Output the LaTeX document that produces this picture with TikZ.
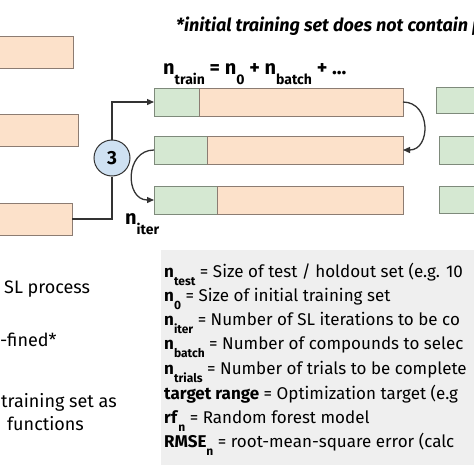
\documentclass[tikz,border=0pt]{standalone}
\usepackage{fontspec}
\setmainfont{Fira Sans}
\usetikzlibrary{arrows.meta}
\usetikzlibrary{positioning}

\definecolor{peachfill}{HTML}{FCE1CA}
\definecolor{peachline}{HTML}{8C7C72}
\definecolor{greenfill}{HTML}{D5E8D2}
\definecolor{greenline}{HTML}{7E8A7B}
\definecolor{bluefill}{HTML}{CFE1F2}
\definecolor{linecol}{HTML}{333333}
\definecolor{panelgray}{HTML}{EFEFEF}

% lowered index as printed under the bold n
\newcommand\topidx[1]{\raisebox{-10pt}{\fontsize{14}{14}\selectfont\bfseries #1}}
\newcommand\keyidx[1]{\raisebox{-8pt}{\fontsize{12}{12}\selectfont\bfseries #1}}

\tikzset {
  part/.style = {
    anchor = north west,
    inner sep = 0,
    outer sep = 0,
    line width = 1pt,
    minimum height = 28pt
  },
  % held-out compounds
  test part/.style = {
    part,
    draw = greenline,
    fill = greenfill
  },
  % training compounds
  train part/.style = {
    part,
    draw = peachline,
    fill = peachfill
  },
  step node/.style = {
    circle,
    draw = linecol,
    fill = bluefill,
    line width = 1pt,
    minimum size = 36pt,
    inner sep = 0,
    font = \bfseries\fontsize{19}{19}\selectfont
  },
  link/.style = {
    draw = linecol,
    line width = 1.3pt
  },
  % connector with a head
  arrlink/.style = {
    link,
    -{Triangle[length=7pt, width=6pt]}
  },
  keyline/.style = {
    anchor = base west,
    inner sep = 0,
    font = \fontsize{17}{17}\selectfont
  },
  sideline/.style = {
    anchor = base west,
    inner sep = 0,
    font = \fontsize{18}{18}\selectfont
  },
  formula/.style = {
    anchor = base west,
    inner sep = 0,
    font = \bfseries\fontsize{20}{20}\selectfont
  }
}

\begin{document}
\begin{tikzpicture}[x=1pt, y=-1pt]
    \useasboundingbox (0,0) rectangle (474,474);
    \clip (0,0) rectangle (474,474);

    % legend panel
    \node[fill=panelgray, anchor=north west, inner sep=0,
      minimum width=320pt, minimum height=215pt] (legend) at (161,250) {};

    % left column
    \node[train part, minimum width=78pt, minimum height=32pt] (first) at (-5,36) {};
    \node[train part, minimum width=83pt, minimum height=32pt] (second) at (-5,114) {};
    \node[train part, minimum width=77pt, minimum height=32pt] (third) at (-5,203) {};

    % step 3
    \node[step node] (step) at (112,158) {3};

    % splits
    \node[test part, minimum width=45pt] (testA) at (154,88) {};
    \node[train part, minimum width=204pt, right=0pt of testA] (trainA) {};
    \node[test part, minimum width=53pt] (testB) at (154,136) {};
    \node[train part, minimum width=196pt, right=0pt of testB] (trainB) {};
    \node[test part, minimum width=63pt] (testC) at (154,186) {};
    \node[train part, minimum width=186pt, right=0pt of testC] (trainC) {};

    \node[test part, minimum width=60pt, minimum height=26pt] (outA) at (436,87) {};
    \node[test part, minimum width=60pt] (outB) at (439,136) {};
    \node[test part, minimum width=60pt, minimum height=27pt] (outC) at (439,186) {};

    \draw[link] (third.east) -| (step.south);
    \draw[arrlink] (step.north) |- (testA.west);
    \draw[arrlink] (testB.west) to[out=180, in=180, looseness=1.5] (testC.west);
    \draw[arrlink] (trainA.east) to[out=0, in=0, looseness=1.5] (trainB.east);

    % labels
    \node[anchor=base west, inner sep=0,
      font=\bfseries\itshape\fontsize{18}{18}\selectfont] (note) at (176,31)
      {*initial training set does not contain p};
    \node[formula] (ntrain) at (163,74)
      {n\topidx{train}\ = n\topidx{0} + n\topidx{batch} + ...};
    \node[formula] (niter) at (125,224) {n\topidx{iter}};

    \node[sideline] (slproc) at (4,293) {SL process};
    \node[sideline] (fined) at (0,346) {-fined*};
    \node[sideline] (trainas) at (1,407) {training set as};
    \node[sideline] (funcs) at (7,430) {functions};

    % legend entries
    \node[keyline] (ktest) at (164,277)
      {\textbf{n}\keyidx{test}\ = Size of test / holdout set (e.g. 10};
    \node[keyline] (kzero) at (164,301)
      {\textbf{n}\keyidx{0} = Size of initial training set};
    \node[keyline] (kiter) at (164,325)
      {\textbf{n}\keyidx{iter} = Number of SL iterations to be co};
    \node[keyline] (kbatch) at (164,349)
      {\textbf{n}\keyidx{batch}\ = Number of compounds to selec};
    \node[keyline] (ktrials) at (164,374)
      {\textbf{n}\keyidx{trials} = Number of trials to be complete};
    \node[keyline] (krange) at (164,399)
      {\textbf{target range} = Optimization target (e.g};
    \node[keyline] (krf) at (164,423)
      {\textbf{rf}\keyidx{n}\ = Random forest model};
    \node[keyline] (krmse) at (164,447)
      {\textbf{RMSE}\keyidx{n} = root-mean-square error (calc};
\end{tikzpicture}
\end{document}
